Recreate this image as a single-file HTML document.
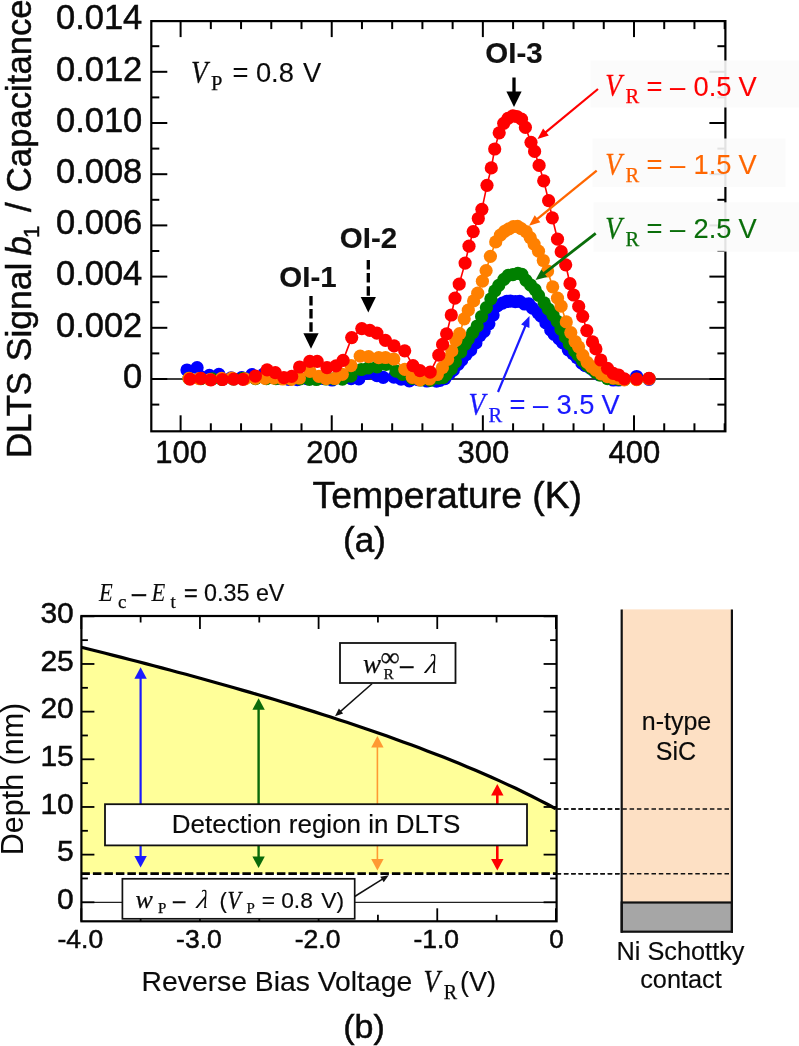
<!DOCTYPE html>
<html><head><meta charset="utf-8"><title>DLTS figure</title>
<style>
html,body{margin:0;padding:0;background:#fff;}
svg{display:block;}
text{white-space:pre;}
</style></head><body>
<svg width="799" height="1046" viewBox="0 0 799 1046">
<rect width="799" height="1046" fill="#fff"/>
<line x1="151.30" y1="379.00" x2="725.40" y2="379.00" stroke="#000" stroke-width="1.4" />
<polyline points="187.0,370.0 197.1,367.7 209.4,375.4 218.9,374.4 231.1,377.9 241.7,377.7 251.9,374.7 264.0,373.9 271.4,376.6 281.0,378.5 288.7,379.4 297.3,379.7 306.8,378.7 316.4,378.0 323.2,378.5 332.1,380.0 341.7,378.3 351.2,378.6 358.8,378.9 366.9,373.4 377.0,375.6 383.2,377.4 393.9,377.1 401.1,379.2 409.3,380.9 417.8,379.7 426.9,381.0 436.5,381.1 439.9,380.4 444.9,378.6 449.4,373.8 453.4,370.0 458.1,364.3 461.7,360.1 466.1,354.6 470.7,350.1 475.9,342.9 479.9,335.7 484.1,331.3 488.9,323.8 493.1,315.0 497.3,305.9 502.5,303.2 506.7,301.4 510.4,301.1 515.3,301.6 519.6,301.4 524.6,304.0 528.8,303.8 532.5,308.1 538.0,312.8 541.0,316.1 545.9,322.9 550.8,330.2 554.2,334.4 559.2,338.9 562.9,342.9 568.3,349.8 572.8,353.6 576.9,357.6 581.8,363.0 585.3,365.7 590.3,368.0 594.5,371.3 598.9,374.5 607.5,377.1 613.2,380.0 618.6,380.0 624.3,379.4 636.6,376.5 649.0,379.3" fill="none" stroke="#0000ff" stroke-width="1.6" stroke-linejoin="round"/>
<g fill="#0000ff"><circle cx="187.0" cy="370.0" r="6.6"/><circle cx="197.1" cy="367.7" r="6.6"/><circle cx="209.4" cy="375.4" r="6.6"/><circle cx="218.9" cy="374.4" r="6.6"/><circle cx="231.1" cy="377.9" r="6.6"/><circle cx="241.7" cy="377.7" r="6.6"/><circle cx="251.9" cy="374.7" r="6.6"/><circle cx="264.0" cy="373.9" r="6.6"/><circle cx="271.4" cy="376.6" r="6.6"/><circle cx="281.0" cy="378.5" r="6.6"/><circle cx="288.7" cy="379.4" r="6.6"/><circle cx="297.3" cy="379.7" r="6.6"/><circle cx="306.8" cy="378.7" r="6.6"/><circle cx="316.4" cy="378.0" r="6.6"/><circle cx="323.2" cy="378.5" r="6.6"/><circle cx="332.1" cy="380.0" r="6.6"/><circle cx="341.7" cy="378.3" r="6.6"/><circle cx="351.2" cy="378.6" r="6.6"/><circle cx="358.8" cy="378.9" r="6.6"/><circle cx="366.9" cy="373.4" r="6.6"/><circle cx="377.0" cy="375.6" r="6.6"/><circle cx="383.2" cy="377.4" r="6.6"/><circle cx="393.9" cy="377.1" r="6.6"/><circle cx="401.1" cy="379.2" r="6.6"/><circle cx="409.3" cy="380.9" r="6.6"/><circle cx="417.8" cy="379.7" r="6.6"/><circle cx="426.9" cy="381.0" r="6.6"/><circle cx="436.5" cy="381.1" r="6.6"/><circle cx="439.9" cy="380.4" r="6.6"/><circle cx="444.9" cy="378.6" r="6.6"/><circle cx="449.4" cy="373.8" r="6.6"/><circle cx="453.4" cy="370.0" r="6.6"/><circle cx="458.1" cy="364.3" r="6.6"/><circle cx="461.7" cy="360.1" r="6.6"/><circle cx="466.1" cy="354.6" r="6.6"/><circle cx="470.7" cy="350.1" r="6.6"/><circle cx="475.9" cy="342.9" r="6.6"/><circle cx="479.9" cy="335.7" r="6.6"/><circle cx="484.1" cy="331.3" r="6.6"/><circle cx="488.9" cy="323.8" r="6.6"/><circle cx="493.1" cy="315.0" r="6.6"/><circle cx="497.3" cy="305.9" r="6.6"/><circle cx="502.5" cy="303.2" r="6.6"/><circle cx="506.7" cy="301.4" r="6.6"/><circle cx="510.4" cy="301.1" r="6.6"/><circle cx="515.3" cy="301.6" r="6.6"/><circle cx="519.6" cy="301.4" r="6.6"/><circle cx="524.6" cy="304.0" r="6.6"/><circle cx="528.8" cy="303.8" r="6.6"/><circle cx="532.5" cy="308.1" r="6.6"/><circle cx="538.0" cy="312.8" r="6.6"/><circle cx="541.0" cy="316.1" r="6.6"/><circle cx="545.9" cy="322.9" r="6.6"/><circle cx="550.8" cy="330.2" r="6.6"/><circle cx="554.2" cy="334.4" r="6.6"/><circle cx="559.2" cy="338.9" r="6.6"/><circle cx="562.9" cy="342.9" r="6.6"/><circle cx="568.3" cy="349.8" r="6.6"/><circle cx="572.8" cy="353.6" r="6.6"/><circle cx="576.9" cy="357.6" r="6.6"/><circle cx="581.8" cy="363.0" r="6.6"/><circle cx="585.3" cy="365.7" r="6.6"/><circle cx="590.3" cy="368.0" r="6.6"/><circle cx="594.5" cy="371.3" r="6.6"/><circle cx="598.9" cy="374.5" r="6.6"/><circle cx="607.5" cy="377.1" r="6.6"/><circle cx="613.2" cy="380.0" r="6.6"/><circle cx="618.6" cy="380.0" r="6.6"/><circle cx="624.3" cy="379.4" r="6.6"/><circle cx="636.6" cy="376.5" r="6.6"/><circle cx="649.0" cy="379.3" r="6.6"/></g>
<polyline points="189.0,378.4 200.9,378.7 212.2,378.9 221.9,379.4 233.4,379.0 242.9,378.4 255.5,378.7 266.4,378.7 275.9,378.7 284.0,378.5 291.2,378.9 300.1,378.9 309.4,379.4 316.4,379.5 326.1,379.0 333.9,378.9 342.4,379.2 350.9,376.2 361.3,369.5 368.2,368.0 377.1,366.8 386.1,364.3 396.0,371.1 402.5,374.4 412.1,378.3 420.9,380.0 430.4,380.3 438.5,378.2 443.0,377.6 446.4,374.6 451.1,369.2 455.4,362.1 460.6,352.2 465.1,344.4 468.2,339.1 472.7,332.6 477.2,326.0 481.6,316.5 486.4,307.6 490.9,298.8 494.8,290.9 498.8,285.3 503.9,279.3 508.2,275.3 512.9,274.7 517.9,273.4 521.9,274.4 526.0,280.3 530.6,285.0 535.1,289.7 538.5,295.3 544.2,302.8 548.4,309.2 553.0,315.1 557.3,321.4 561.0,329.4 565.4,337.2 569.4,344.2 574.6,350.9 578.1,355.2 582.5,360.7 587.1,365.4 591.5,368.7 596.1,372.5 600.1,375.2 607.5,378.6 613.2,378.5 618.6,379.3 624.3,379.5 636.6,379.1 649.0,378.5" fill="none" stroke="#008000" stroke-width="1.6" stroke-linejoin="round"/>
<g fill="#008000"><circle cx="189.0" cy="378.4" r="6.6"/><circle cx="200.9" cy="378.7" r="6.6"/><circle cx="212.2" cy="378.9" r="6.6"/><circle cx="221.9" cy="379.4" r="6.6"/><circle cx="233.4" cy="379.0" r="6.6"/><circle cx="242.9" cy="378.4" r="6.6"/><circle cx="255.5" cy="378.7" r="6.6"/><circle cx="266.4" cy="378.7" r="6.6"/><circle cx="275.9" cy="378.7" r="6.6"/><circle cx="284.0" cy="378.5" r="6.6"/><circle cx="291.2" cy="378.9" r="6.6"/><circle cx="300.1" cy="378.9" r="6.6"/><circle cx="309.4" cy="379.4" r="6.6"/><circle cx="316.4" cy="379.5" r="6.6"/><circle cx="326.1" cy="379.0" r="6.6"/><circle cx="333.9" cy="378.9" r="6.6"/><circle cx="342.4" cy="379.2" r="6.6"/><circle cx="350.9" cy="376.2" r="6.6"/><circle cx="361.3" cy="369.5" r="6.6"/><circle cx="368.2" cy="368.0" r="6.6"/><circle cx="377.1" cy="366.8" r="6.6"/><circle cx="386.1" cy="364.3" r="6.6"/><circle cx="396.0" cy="371.1" r="6.6"/><circle cx="402.5" cy="374.4" r="6.6"/><circle cx="412.1" cy="378.3" r="6.6"/><circle cx="420.9" cy="380.0" r="6.6"/><circle cx="430.4" cy="380.3" r="6.6"/><circle cx="438.5" cy="378.2" r="6.6"/><circle cx="443.0" cy="377.6" r="6.6"/><circle cx="446.4" cy="374.6" r="6.6"/><circle cx="451.1" cy="369.2" r="6.6"/><circle cx="455.4" cy="362.1" r="6.6"/><circle cx="460.6" cy="352.2" r="6.6"/><circle cx="465.1" cy="344.4" r="6.6"/><circle cx="468.2" cy="339.1" r="6.6"/><circle cx="472.7" cy="332.6" r="6.6"/><circle cx="477.2" cy="326.0" r="6.6"/><circle cx="481.6" cy="316.5" r="6.6"/><circle cx="486.4" cy="307.6" r="6.6"/><circle cx="490.9" cy="298.8" r="6.6"/><circle cx="494.8" cy="290.9" r="6.6"/><circle cx="498.8" cy="285.3" r="6.6"/><circle cx="503.9" cy="279.3" r="6.6"/><circle cx="508.2" cy="275.3" r="6.6"/><circle cx="512.9" cy="274.7" r="6.6"/><circle cx="517.9" cy="273.4" r="6.6"/><circle cx="521.9" cy="274.4" r="6.6"/><circle cx="526.0" cy="280.3" r="6.6"/><circle cx="530.6" cy="285.0" r="6.6"/><circle cx="535.1" cy="289.7" r="6.6"/><circle cx="538.5" cy="295.3" r="6.6"/><circle cx="544.2" cy="302.8" r="6.6"/><circle cx="548.4" cy="309.2" r="6.6"/><circle cx="553.0" cy="315.1" r="6.6"/><circle cx="557.3" cy="321.4" r="6.6"/><circle cx="561.0" cy="329.4" r="6.6"/><circle cx="565.4" cy="337.2" r="6.6"/><circle cx="569.4" cy="344.2" r="6.6"/><circle cx="574.6" cy="350.9" r="6.6"/><circle cx="578.1" cy="355.2" r="6.6"/><circle cx="582.5" cy="360.7" r="6.6"/><circle cx="587.1" cy="365.4" r="6.6"/><circle cx="591.5" cy="368.7" r="6.6"/><circle cx="596.1" cy="372.5" r="6.6"/><circle cx="600.1" cy="375.2" r="6.6"/><circle cx="607.5" cy="378.6" r="6.6"/><circle cx="613.2" cy="378.5" r="6.6"/><circle cx="618.6" cy="379.3" r="6.6"/><circle cx="624.3" cy="379.5" r="6.6"/><circle cx="636.6" cy="379.1" r="6.6"/><circle cx="649.0" cy="378.5" r="6.6"/></g>
<polyline points="189.0,378.3 199.1,378.7 210.0,379.5 221.6,378.3 231.8,378.2 245.0,378.8 255.3,378.3 265.1,378.4 274.0,378.2 282.8,379.0 291.4,379.3 299.4,378.0 309.9,371.4 318.9,376.3 326.1,378.7 334.8,378.5 342.3,374.3 351.0,365.6 360.2,356.2 368.6,356.6 378.7,357.6 385.5,357.5 393.8,359.0 404.8,369.4 412.3,377.3 419.9,379.9 429.5,379.0 437.3,374.5 442.4,367.7 447.6,359.3 451.8,350.9 455.9,340.3 459.6,333.7 464.2,318.8 468.3,310.2 473.6,300.9 477.7,293.2 482.4,281.2 486.1,270.6 490.4,256.3 495.7,241.9 500.4,235.1 504.6,231.4 508.9,228.8 513.3,226.6 517.6,226.3 521.2,228.6 526.0,231.5 530.2,237.6 534.1,244.1 538.5,251.2 543.3,260.5 547.6,271.0 552.7,286.8 557.5,298.2 561.1,306.2 566.3,321.9 570.8,332.6 575.1,341.5 578.6,346.8 582.8,355.3 587.2,362.3 591.5,366.7 595.9,370.0 601.0,373.8 607.5,376.6 613.2,378.1 618.6,378.4 624.3,379.8 636.6,379.7 649.0,378.9" fill="none" stroke="#ff8000" stroke-width="1.6" stroke-linejoin="round"/>
<g fill="#ff8000"><circle cx="189.0" cy="378.3" r="6.6"/><circle cx="199.1" cy="378.7" r="6.6"/><circle cx="210.0" cy="379.5" r="6.6"/><circle cx="221.6" cy="378.3" r="6.6"/><circle cx="231.8" cy="378.2" r="6.6"/><circle cx="245.0" cy="378.8" r="6.6"/><circle cx="255.3" cy="378.3" r="6.6"/><circle cx="265.1" cy="378.4" r="6.6"/><circle cx="274.0" cy="378.2" r="6.6"/><circle cx="282.8" cy="379.0" r="6.6"/><circle cx="291.4" cy="379.3" r="6.6"/><circle cx="299.4" cy="378.0" r="6.6"/><circle cx="309.9" cy="371.4" r="6.6"/><circle cx="318.9" cy="376.3" r="6.6"/><circle cx="326.1" cy="378.7" r="6.6"/><circle cx="334.8" cy="378.5" r="6.6"/><circle cx="342.3" cy="374.3" r="6.6"/><circle cx="351.0" cy="365.6" r="6.6"/><circle cx="360.2" cy="356.2" r="6.6"/><circle cx="368.6" cy="356.6" r="6.6"/><circle cx="378.7" cy="357.6" r="6.6"/><circle cx="385.5" cy="357.5" r="6.6"/><circle cx="393.8" cy="359.0" r="6.6"/><circle cx="404.8" cy="369.4" r="6.6"/><circle cx="412.3" cy="377.3" r="6.6"/><circle cx="419.9" cy="379.9" r="6.6"/><circle cx="429.5" cy="379.0" r="6.6"/><circle cx="437.3" cy="374.5" r="6.6"/><circle cx="442.4" cy="367.7" r="6.6"/><circle cx="447.6" cy="359.3" r="6.6"/><circle cx="451.8" cy="350.9" r="6.6"/><circle cx="455.9" cy="340.3" r="6.6"/><circle cx="459.6" cy="333.7" r="6.6"/><circle cx="464.2" cy="318.8" r="6.6"/><circle cx="468.3" cy="310.2" r="6.6"/><circle cx="473.6" cy="300.9" r="6.6"/><circle cx="477.7" cy="293.2" r="6.6"/><circle cx="482.4" cy="281.2" r="6.6"/><circle cx="486.1" cy="270.6" r="6.6"/><circle cx="490.4" cy="256.3" r="6.6"/><circle cx="495.7" cy="241.9" r="6.6"/><circle cx="500.4" cy="235.1" r="6.6"/><circle cx="504.6" cy="231.4" r="6.6"/><circle cx="508.9" cy="228.8" r="6.6"/><circle cx="513.3" cy="226.6" r="6.6"/><circle cx="517.6" cy="226.3" r="6.6"/><circle cx="521.2" cy="228.6" r="6.6"/><circle cx="526.0" cy="231.5" r="6.6"/><circle cx="530.2" cy="237.6" r="6.6"/><circle cx="534.1" cy="244.1" r="6.6"/><circle cx="538.5" cy="251.2" r="6.6"/><circle cx="543.3" cy="260.5" r="6.6"/><circle cx="547.6" cy="271.0" r="6.6"/><circle cx="552.7" cy="286.8" r="6.6"/><circle cx="557.5" cy="298.2" r="6.6"/><circle cx="561.1" cy="306.2" r="6.6"/><circle cx="566.3" cy="321.9" r="6.6"/><circle cx="570.8" cy="332.6" r="6.6"/><circle cx="575.1" cy="341.5" r="6.6"/><circle cx="578.6" cy="346.8" r="6.6"/><circle cx="582.8" cy="355.3" r="6.6"/><circle cx="587.2" cy="362.3" r="6.6"/><circle cx="591.5" cy="366.7" r="6.6"/><circle cx="595.9" cy="370.0" r="6.6"/><circle cx="601.0" cy="373.8" r="6.6"/><circle cx="607.5" cy="376.6" r="6.6"/><circle cx="613.2" cy="378.1" r="6.6"/><circle cx="618.6" cy="378.4" r="6.6"/><circle cx="624.3" cy="379.8" r="6.6"/><circle cx="636.6" cy="379.7" r="6.6"/><circle cx="649.0" cy="378.9" r="6.6"/></g>
<polyline points="190.0,379.1 200.9,378.3 210.9,379.8 222.4,379.5 233.8,379.2 242.9,379.4 255.4,376.1 267.1,369.8 275.3,372.7 283.9,377.7 291.7,376.4 299.6,367.0 309.8,361.4 317.2,361.4 327.0,367.7 336.0,365.8 343.1,360.4 351.7,337.6 361.8,328.6 369.8,330.4 376.9,333.1 385.4,340.3 394.1,345.9 404.7,350.8 413.0,365.6 419.9,370.6 430.2,372.1 438.8,355.2 442.6,344.4 446.6,333.8 451.3,315.0 455.0,298.1 459.2,284.1 465.1,263.1 469.0,246.2 473.2,231.6 478.3,218.5 481.9,209.3 487.0,185.3 491.3,167.9 494.7,149.0 499.2,132.8 503.7,123.3 508.0,118.4 512.9,115.8 516.8,116.5 521.5,119.2 525.4,127.4 531.0,142.3 534.6,151.4 539.1,165.4 543.7,180.8 548.6,200.6 552.3,217.8 557.5,239.2 561.2,251.7 565.7,264.8 570.0,283.7 573.6,295.0 578.7,306.4 582.7,316.3 586.8,330.6 592.5,341.9 595.9,348.9 600.8,360.0 607.5,368.3 613.2,373.4 618.6,375.0 624.3,378.8 636.6,379.0 649.0,378.3" fill="none" stroke="#ff0000" stroke-width="1.6" stroke-linejoin="round"/>
<g fill="#ff0000"><circle cx="190.0" cy="379.1" r="6.6"/><circle cx="200.9" cy="378.3" r="6.6"/><circle cx="210.9" cy="379.8" r="6.6"/><circle cx="222.4" cy="379.5" r="6.6"/><circle cx="233.8" cy="379.2" r="6.6"/><circle cx="242.9" cy="379.4" r="6.6"/><circle cx="255.4" cy="376.1" r="6.6"/><circle cx="267.1" cy="369.8" r="6.6"/><circle cx="275.3" cy="372.7" r="6.6"/><circle cx="283.9" cy="377.7" r="6.6"/><circle cx="291.7" cy="376.4" r="6.6"/><circle cx="299.6" cy="367.0" r="6.6"/><circle cx="309.8" cy="361.4" r="6.6"/><circle cx="317.2" cy="361.4" r="6.6"/><circle cx="327.0" cy="367.7" r="6.6"/><circle cx="336.0" cy="365.8" r="6.6"/><circle cx="343.1" cy="360.4" r="6.6"/><circle cx="351.7" cy="337.6" r="6.6"/><circle cx="361.8" cy="328.6" r="6.6"/><circle cx="369.8" cy="330.4" r="6.6"/><circle cx="376.9" cy="333.1" r="6.6"/><circle cx="385.4" cy="340.3" r="6.6"/><circle cx="394.1" cy="345.9" r="6.6"/><circle cx="404.7" cy="350.8" r="6.6"/><circle cx="413.0" cy="365.6" r="6.6"/><circle cx="419.9" cy="370.6" r="6.6"/><circle cx="430.2" cy="372.1" r="6.6"/><circle cx="438.8" cy="355.2" r="6.6"/><circle cx="442.6" cy="344.4" r="6.6"/><circle cx="446.6" cy="333.8" r="6.6"/><circle cx="451.3" cy="315.0" r="6.6"/><circle cx="455.0" cy="298.1" r="6.6"/><circle cx="459.2" cy="284.1" r="6.6"/><circle cx="465.1" cy="263.1" r="6.6"/><circle cx="469.0" cy="246.2" r="6.6"/><circle cx="473.2" cy="231.6" r="6.6"/><circle cx="478.3" cy="218.5" r="6.6"/><circle cx="481.9" cy="209.3" r="6.6"/><circle cx="487.0" cy="185.3" r="6.6"/><circle cx="491.3" cy="167.9" r="6.6"/><circle cx="494.7" cy="149.0" r="6.6"/><circle cx="499.2" cy="132.8" r="6.6"/><circle cx="503.7" cy="123.3" r="6.6"/><circle cx="508.0" cy="118.4" r="6.6"/><circle cx="512.9" cy="115.8" r="6.6"/><circle cx="516.8" cy="116.5" r="6.6"/><circle cx="521.5" cy="119.2" r="6.6"/><circle cx="525.4" cy="127.4" r="6.6"/><circle cx="531.0" cy="142.3" r="6.6"/><circle cx="534.6" cy="151.4" r="6.6"/><circle cx="539.1" cy="165.4" r="6.6"/><circle cx="543.7" cy="180.8" r="6.6"/><circle cx="548.6" cy="200.6" r="6.6"/><circle cx="552.3" cy="217.8" r="6.6"/><circle cx="557.5" cy="239.2" r="6.6"/><circle cx="561.2" cy="251.7" r="6.6"/><circle cx="565.7" cy="264.8" r="6.6"/><circle cx="570.0" cy="283.7" r="6.6"/><circle cx="573.6" cy="295.0" r="6.6"/><circle cx="578.7" cy="306.4" r="6.6"/><circle cx="582.7" cy="316.3" r="6.6"/><circle cx="586.8" cy="330.6" r="6.6"/><circle cx="592.5" cy="341.9" r="6.6"/><circle cx="595.9" cy="348.9" r="6.6"/><circle cx="600.8" cy="360.0" r="6.6"/><circle cx="607.5" cy="368.3" r="6.6"/><circle cx="613.2" cy="373.4" r="6.6"/><circle cx="618.6" cy="375.0" r="6.6"/><circle cx="624.3" cy="378.8" r="6.6"/><circle cx="636.6" cy="379.0" r="6.6"/><circle cx="649.0" cy="378.3" r="6.6"/></g>
<rect x="151.3" y="21.1" width="574.0999999999999" height="410.2" fill="none" stroke="#000" stroke-width="2.2"/>
<line x1="180.60" y1="21.10" x2="180.60" y2="37.10" stroke="#000" stroke-width="2" />
<line x1="180.60" y1="431.30" x2="180.60" y2="415.30" stroke="#000" stroke-width="2" />
<line x1="210.83" y1="21.10" x2="210.83" y2="29.10" stroke="#000" stroke-width="2" />
<line x1="210.83" y1="431.30" x2="210.83" y2="423.30" stroke="#000" stroke-width="2" />
<line x1="241.05" y1="21.10" x2="241.05" y2="29.10" stroke="#000" stroke-width="2" />
<line x1="241.05" y1="431.30" x2="241.05" y2="423.30" stroke="#000" stroke-width="2" />
<line x1="271.28" y1="21.10" x2="271.28" y2="29.10" stroke="#000" stroke-width="2" />
<line x1="271.28" y1="431.30" x2="271.28" y2="423.30" stroke="#000" stroke-width="2" />
<line x1="301.50" y1="21.10" x2="301.50" y2="29.10" stroke="#000" stroke-width="2" />
<line x1="301.50" y1="431.30" x2="301.50" y2="423.30" stroke="#000" stroke-width="2" />
<line x1="331.73" y1="21.10" x2="331.73" y2="37.10" stroke="#000" stroke-width="2" />
<line x1="331.73" y1="431.30" x2="331.73" y2="415.30" stroke="#000" stroke-width="2" />
<line x1="361.96" y1="21.10" x2="361.96" y2="29.10" stroke="#000" stroke-width="2" />
<line x1="361.96" y1="431.30" x2="361.96" y2="423.30" stroke="#000" stroke-width="2" />
<line x1="392.18" y1="21.10" x2="392.18" y2="29.10" stroke="#000" stroke-width="2" />
<line x1="392.18" y1="431.30" x2="392.18" y2="423.30" stroke="#000" stroke-width="2" />
<line x1="422.41" y1="21.10" x2="422.41" y2="29.10" stroke="#000" stroke-width="2" />
<line x1="422.41" y1="431.30" x2="422.41" y2="423.30" stroke="#000" stroke-width="2" />
<line x1="452.63" y1="21.10" x2="452.63" y2="29.10" stroke="#000" stroke-width="2" />
<line x1="452.63" y1="431.30" x2="452.63" y2="423.30" stroke="#000" stroke-width="2" />
<line x1="482.86" y1="21.10" x2="482.86" y2="37.10" stroke="#000" stroke-width="2" />
<line x1="482.86" y1="431.30" x2="482.86" y2="415.30" stroke="#000" stroke-width="2" />
<line x1="513.09" y1="21.10" x2="513.09" y2="29.10" stroke="#000" stroke-width="2" />
<line x1="513.09" y1="431.30" x2="513.09" y2="423.30" stroke="#000" stroke-width="2" />
<line x1="543.31" y1="21.10" x2="543.31" y2="29.10" stroke="#000" stroke-width="2" />
<line x1="543.31" y1="431.30" x2="543.31" y2="423.30" stroke="#000" stroke-width="2" />
<line x1="573.54" y1="21.10" x2="573.54" y2="29.10" stroke="#000" stroke-width="2" />
<line x1="573.54" y1="431.30" x2="573.54" y2="423.30" stroke="#000" stroke-width="2" />
<line x1="603.76" y1="21.10" x2="603.76" y2="29.10" stroke="#000" stroke-width="2" />
<line x1="603.76" y1="431.30" x2="603.76" y2="423.30" stroke="#000" stroke-width="2" />
<line x1="633.99" y1="21.10" x2="633.99" y2="37.10" stroke="#000" stroke-width="2" />
<line x1="633.99" y1="431.30" x2="633.99" y2="415.30" stroke="#000" stroke-width="2" />
<line x1="664.22" y1="21.10" x2="664.22" y2="29.10" stroke="#000" stroke-width="2" />
<line x1="664.22" y1="431.30" x2="664.22" y2="423.30" stroke="#000" stroke-width="2" />
<line x1="694.44" y1="21.10" x2="694.44" y2="29.10" stroke="#000" stroke-width="2" />
<line x1="694.44" y1="431.30" x2="694.44" y2="423.30" stroke="#000" stroke-width="2" />
<line x1="724.67" y1="21.10" x2="724.67" y2="29.10" stroke="#000" stroke-width="2" />
<line x1="724.67" y1="431.30" x2="724.67" y2="423.30" stroke="#000" stroke-width="2" />
<line x1="151.30" y1="404.60" x2="159.30" y2="404.60" stroke="#000" stroke-width="2" />
<line x1="725.40" y1="404.60" x2="717.40" y2="404.60" stroke="#000" stroke-width="2" />
<line x1="151.30" y1="379.00" x2="167.30" y2="379.00" stroke="#000" stroke-width="2" />
<line x1="725.40" y1="379.00" x2="709.40" y2="379.00" stroke="#000" stroke-width="2" />
<line x1="151.30" y1="353.40" x2="159.30" y2="353.40" stroke="#000" stroke-width="2" />
<line x1="725.40" y1="353.40" x2="717.40" y2="353.40" stroke="#000" stroke-width="2" />
<line x1="151.30" y1="327.80" x2="167.30" y2="327.80" stroke="#000" stroke-width="2" />
<line x1="725.40" y1="327.80" x2="709.40" y2="327.80" stroke="#000" stroke-width="2" />
<line x1="151.30" y1="302.20" x2="159.30" y2="302.20" stroke="#000" stroke-width="2" />
<line x1="725.40" y1="302.20" x2="717.40" y2="302.20" stroke="#000" stroke-width="2" />
<line x1="151.30" y1="276.60" x2="167.30" y2="276.60" stroke="#000" stroke-width="2" />
<line x1="725.40" y1="276.60" x2="709.40" y2="276.60" stroke="#000" stroke-width="2" />
<line x1="151.30" y1="251.00" x2="159.30" y2="251.00" stroke="#000" stroke-width="2" />
<line x1="725.40" y1="251.00" x2="717.40" y2="251.00" stroke="#000" stroke-width="2" />
<line x1="151.30" y1="225.40" x2="167.30" y2="225.40" stroke="#000" stroke-width="2" />
<line x1="725.40" y1="225.40" x2="709.40" y2="225.40" stroke="#000" stroke-width="2" />
<line x1="151.30" y1="199.80" x2="159.30" y2="199.80" stroke="#000" stroke-width="2" />
<line x1="725.40" y1="199.80" x2="717.40" y2="199.80" stroke="#000" stroke-width="2" />
<line x1="151.30" y1="174.20" x2="167.30" y2="174.20" stroke="#000" stroke-width="2" />
<line x1="725.40" y1="174.20" x2="709.40" y2="174.20" stroke="#000" stroke-width="2" />
<line x1="151.30" y1="148.60" x2="159.30" y2="148.60" stroke="#000" stroke-width="2" />
<line x1="725.40" y1="148.60" x2="717.40" y2="148.60" stroke="#000" stroke-width="2" />
<line x1="151.30" y1="123.00" x2="167.30" y2="123.00" stroke="#000" stroke-width="2" />
<line x1="725.40" y1="123.00" x2="709.40" y2="123.00" stroke="#000" stroke-width="2" />
<line x1="151.30" y1="97.40" x2="159.30" y2="97.40" stroke="#000" stroke-width="2" />
<line x1="725.40" y1="97.40" x2="717.40" y2="97.40" stroke="#000" stroke-width="2" />
<line x1="151.30" y1="71.80" x2="167.30" y2="71.80" stroke="#000" stroke-width="2" />
<line x1="725.40" y1="71.80" x2="709.40" y2="71.80" stroke="#000" stroke-width="2" />
<line x1="151.30" y1="46.20" x2="159.30" y2="46.20" stroke="#000" stroke-width="2" />
<line x1="725.40" y1="46.20" x2="717.40" y2="46.20" stroke="#000" stroke-width="2" />
<text x="142.30" y="387.70" font-size="34.5" text-anchor="end" fill="#0a0a0a" font-family='"Liberation Sans", Arial, sans-serif' font-weight="normal" font-style="normal"  stroke="#0a0a0a" stroke-width="0.5">0</text>
<text x="142.30" y="336.50" font-size="34.5" text-anchor="end" fill="#0a0a0a" font-family='"Liberation Sans", Arial, sans-serif' font-weight="normal" font-style="normal"  stroke="#0a0a0a" stroke-width="0.5">0.002</text>
<text x="142.30" y="285.30" font-size="34.5" text-anchor="end" fill="#0a0a0a" font-family='"Liberation Sans", Arial, sans-serif' font-weight="normal" font-style="normal"  stroke="#0a0a0a" stroke-width="0.5">0.004</text>
<text x="142.30" y="234.10" font-size="34.5" text-anchor="end" fill="#0a0a0a" font-family='"Liberation Sans", Arial, sans-serif' font-weight="normal" font-style="normal"  stroke="#0a0a0a" stroke-width="0.5">0.006</text>
<text x="142.30" y="182.90" font-size="34.5" text-anchor="end" fill="#0a0a0a" font-family='"Liberation Sans", Arial, sans-serif' font-weight="normal" font-style="normal"  stroke="#0a0a0a" stroke-width="0.5">0.008</text>
<text x="142.30" y="131.70" font-size="34.5" text-anchor="end" fill="#0a0a0a" font-family='"Liberation Sans", Arial, sans-serif' font-weight="normal" font-style="normal"  stroke="#0a0a0a" stroke-width="0.5">0.010</text>
<text x="142.30" y="80.50" font-size="34.5" text-anchor="end" fill="#0a0a0a" font-family='"Liberation Sans", Arial, sans-serif' font-weight="normal" font-style="normal"  stroke="#0a0a0a" stroke-width="0.5">0.012</text>
<text x="142.30" y="29.30" font-size="34.5" text-anchor="end" fill="#0a0a0a" font-family='"Liberation Sans", Arial, sans-serif' font-weight="normal" font-style="normal"  stroke="#0a0a0a" stroke-width="0.5">0.014</text>
<text x="181.10" y="462.50" font-size="31" text-anchor="middle" fill="#0a0a0a" font-family='"Liberation Sans", Arial, sans-serif' font-weight="normal" font-style="normal"  stroke="#0a0a0a" stroke-width="0.5">100</text>
<text x="332.23" y="462.50" font-size="31" text-anchor="middle" fill="#0a0a0a" font-family='"Liberation Sans", Arial, sans-serif' font-weight="normal" font-style="normal"  stroke="#0a0a0a" stroke-width="0.5">200</text>
<text x="483.36" y="462.50" font-size="31" text-anchor="middle" fill="#0a0a0a" font-family='"Liberation Sans", Arial, sans-serif' font-weight="normal" font-style="normal"  stroke="#0a0a0a" stroke-width="0.5">300</text>
<text x="634.49" y="462.50" font-size="31" text-anchor="middle" fill="#0a0a0a" font-family='"Liberation Sans", Arial, sans-serif' font-weight="normal" font-style="normal"  stroke="#0a0a0a" stroke-width="0.5">400</text>
<text x="447.30" y="507.60" font-size="37.3" text-anchor="middle" fill="#0a0a0a" font-family='"Liberation Sans", Arial, sans-serif' font-weight="normal" font-style="normal"  stroke="#0a0a0a" stroke-width="0.5">Temperature (K)</text>
<text x="364.50" y="552.00" font-size="35" text-anchor="middle" fill="#0a0a0a" font-family='"Liberation Sans", Arial, sans-serif' font-weight="normal" font-style="normal"  stroke="#0a0a0a" stroke-width="0.5">(a)</text>
<text transform="translate(30.8,458.1) rotate(-90)" font-size="34.7" fill="#0a0a0a" stroke="#0a0a0a" stroke-width="0.5" font-style="normal" font-family='"Liberation Sans", Arial, sans-serif'>DLTS</text>
<text transform="translate(30.8,361.2) rotate(-90)" font-size="35.5" fill="#0a0a0a" stroke="#0a0a0a" stroke-width="0.5" font-style="normal" font-family='"Liberation Sans", Arial, sans-serif'>Signal</text>
<text transform="translate(30.8,255.5) rotate(-90)" font-size="34.7" fill="#0a0a0a" stroke="#0a0a0a" stroke-width="0.5" font-style="italic" font-family='"Liberation Sans", Arial, sans-serif'>b</text>
<text transform="translate(38.8,238.0) rotate(-90)" font-size="22" fill="#0a0a0a" stroke="#0a0a0a" stroke-width="0.5" font-style="normal" font-family='"Liberation Sans", Arial, sans-serif'>1</text>
<text transform="translate(30.8,212.0) rotate(-90)" font-size="34.7" fill="#0a0a0a" stroke="#0a0a0a" stroke-width="0.5" font-style="normal" font-family='"Liberation Sans", Arial, sans-serif'>/</text>
<text transform="translate(30.8,192.2) rotate(-90)" font-size="34.7" fill="#0a0a0a" stroke="#0a0a0a" stroke-width="0.5" font-style="normal" font-family='"Liberation Sans", Arial, sans-serif'>Capacitance</text>
<rect x="590.5" y="60.5" width="210" height="47" fill="rgba(251,251,251,0.9)"/>
<rect x="592.5" y="138.5" width="193" height="48.5" fill="rgba(251,251,251,0.9)"/>
<rect x="593.5" y="202.3" width="207" height="49.3" fill="rgba(251,251,251,0.9)"/>
<text transform="translate(605.30,96.10) scale(0.86,1)" font-size="31.5" fill="#ff0000" stroke="#ff0000" stroke-width="0.3" font-style="italic" font-family='"Liberation Serif", "DejaVu Serif", serif'>V</text>
<text x="625.50" y="102.90" font-size="20.5" text-anchor="start" fill="#ff0000" font-family='"Liberation Serif", "DejaVu Serif", serif' font-weight="normal" font-style="normal"  stroke="#ff0000" stroke-width="0.25">R</text>
<text x="646.50" y="95.50" font-size="27.3" text-anchor="start" fill="#ff0000" font-family='"Liberation Sans", Arial, sans-serif' font-weight="normal" font-style="normal"  stroke="#ff0000" stroke-width="0.12">=</text>
<text x="669.90" y="95.50" font-size="27.3" text-anchor="start" fill="#ff0000" font-family='"Liberation Sans", Arial, sans-serif' font-weight="normal" font-style="normal"  stroke="#ff0000" stroke-width="0.12">–</text>
<text x="693.50" y="95.50" font-size="27.3" text-anchor="start" fill="#ff0000" font-family='"Liberation Sans", Arial, sans-serif' font-weight="normal" font-style="normal"  stroke="#ff0000" stroke-width="0.12">0.5</text>
<text x="738.40" y="95.50" font-size="27.3" text-anchor="start" fill="#ff0000" font-family='"Liberation Sans", Arial, sans-serif' font-weight="normal" font-style="normal"  stroke="#ff0000" stroke-width="0.12">V</text>
<text transform="translate(605.30,174.80) scale(0.86,1)" font-size="31.5" fill="#ff6600" stroke="#ff6600" stroke-width="0.3" font-style="italic" font-family='"Liberation Serif", "DejaVu Serif", serif'>V</text>
<text x="625.50" y="181.60" font-size="20.5" text-anchor="start" fill="#ff6600" font-family='"Liberation Serif", "DejaVu Serif", serif' font-weight="normal" font-style="normal"  stroke="#ff6600" stroke-width="0.25">R</text>
<text x="646.50" y="174.20" font-size="27.3" text-anchor="start" fill="#ff6600" font-family='"Liberation Sans", Arial, sans-serif' font-weight="normal" font-style="normal"  stroke="#ff6600" stroke-width="0.12">=</text>
<text x="669.90" y="174.20" font-size="27.3" text-anchor="start" fill="#ff6600" font-family='"Liberation Sans", Arial, sans-serif' font-weight="normal" font-style="normal"  stroke="#ff6600" stroke-width="0.12">–</text>
<text x="693.50" y="174.20" font-size="27.3" text-anchor="start" fill="#ff6600" font-family='"Liberation Sans", Arial, sans-serif' font-weight="normal" font-style="normal"  stroke="#ff6600" stroke-width="0.12">1.5</text>
<text x="738.40" y="174.20" font-size="27.3" text-anchor="start" fill="#ff6600" font-family='"Liberation Sans", Arial, sans-serif' font-weight="normal" font-style="normal"  stroke="#ff6600" stroke-width="0.12">V</text>
<text transform="translate(605.30,238.80) scale(0.86,1)" font-size="31.5" fill="#0a6e0a" stroke="#0a6e0a" stroke-width="0.3" font-style="italic" font-family='"Liberation Serif", "DejaVu Serif", serif'>V</text>
<text x="625.50" y="245.60" font-size="20.5" text-anchor="start" fill="#0a6e0a" font-family='"Liberation Serif", "DejaVu Serif", serif' font-weight="normal" font-style="normal"  stroke="#0a6e0a" stroke-width="0.25">R</text>
<text x="646.50" y="238.20" font-size="27.3" text-anchor="start" fill="#0a6e0a" font-family='"Liberation Sans", Arial, sans-serif' font-weight="normal" font-style="normal"  stroke="#0a6e0a" stroke-width="0.12">=</text>
<text x="669.90" y="238.20" font-size="27.3" text-anchor="start" fill="#0a6e0a" font-family='"Liberation Sans", Arial, sans-serif' font-weight="normal" font-style="normal"  stroke="#0a6e0a" stroke-width="0.12">–</text>
<text x="693.50" y="238.20" font-size="27.3" text-anchor="start" fill="#0a6e0a" font-family='"Liberation Sans", Arial, sans-serif' font-weight="normal" font-style="normal"  stroke="#0a6e0a" stroke-width="0.12">2.5</text>
<text x="738.40" y="238.20" font-size="27.3" text-anchor="start" fill="#0a6e0a" font-family='"Liberation Sans", Arial, sans-serif' font-weight="normal" font-style="normal"  stroke="#0a6e0a" stroke-width="0.12">V</text>
<text transform="translate(468.40,414.80) scale(0.86,1)" font-size="31.5" fill="#1a1aff" stroke="#1a1aff" stroke-width="0.3" font-style="italic" font-family='"Liberation Serif", "DejaVu Serif", serif'>V</text>
<text x="488.60" y="421.60" font-size="20.5" text-anchor="start" fill="#1a1aff" font-family='"Liberation Serif", "DejaVu Serif", serif' font-weight="normal" font-style="normal"  stroke="#1a1aff" stroke-width="0.25">R</text>
<text x="509.60" y="414.20" font-size="27.3" text-anchor="start" fill="#1a1aff" font-family='"Liberation Sans", Arial, sans-serif' font-weight="normal" font-style="normal"  stroke="#1a1aff" stroke-width="0.12">=</text>
<text x="533.00" y="414.20" font-size="27.3" text-anchor="start" fill="#1a1aff" font-family='"Liberation Sans", Arial, sans-serif' font-weight="normal" font-style="normal"  stroke="#1a1aff" stroke-width="0.12">–</text>
<text x="556.60" y="414.20" font-size="27.3" text-anchor="start" fill="#1a1aff" font-family='"Liberation Sans", Arial, sans-serif' font-weight="normal" font-style="normal"  stroke="#1a1aff" stroke-width="0.12">3.5</text>
<text x="601.50" y="414.20" font-size="27.3" text-anchor="start" fill="#1a1aff" font-family='"Liberation Sans", Arial, sans-serif' font-weight="normal" font-style="normal"  stroke="#1a1aff" stroke-width="0.12">V</text>
<text transform="translate(190.90,82.80) scale(0.86,1)" font-size="31.5" fill="#0a0a0a" stroke="#0a0a0a" stroke-width="0.3" font-style="italic" font-family='"Liberation Serif", "DejaVu Serif", serif'>V</text>
<text x="211.10" y="89.60" font-size="20.5" text-anchor="start" fill="#0a0a0a" font-family='"Liberation Serif", "DejaVu Serif", serif' font-weight="normal" font-style="normal"  stroke="#0a0a0a" stroke-width="0.25">P</text>
<text x="232.50" y="82.20" font-size="27.3" text-anchor="start" fill="#0a0a0a" font-family='"Liberation Sans", Arial, sans-serif' font-weight="normal" font-style="normal"  stroke="#0a0a0a" stroke-width="0.12">=</text>
<text x="255.90" y="82.20" font-size="27.3" text-anchor="start" fill="#0a0a0a" font-family='"Liberation Sans", Arial, sans-serif' font-weight="normal" font-style="normal"  stroke="#0a0a0a" stroke-width="0.12">0.8</text>
<text x="303.00" y="82.20" font-size="27.3" text-anchor="start" fill="#0a0a0a" font-family='"Liberation Sans", Arial, sans-serif' font-weight="normal" font-style="normal"  stroke="#0a0a0a" stroke-width="0.12">V</text>
<text x="514.00" y="63.00" font-size="29.5" text-anchor="middle" fill="#111" font-family='"Liberation Sans", Arial, sans-serif' font-weight="bold" font-style="normal"  stroke="#111" stroke-width="0.15">OI-3</text>
<text x="368.50" y="248.00" font-size="29.5" text-anchor="middle" fill="#111" font-family='"Liberation Sans", Arial, sans-serif' font-weight="bold" font-style="normal"  stroke="#111" stroke-width="0.15">OI-2</text>
<text x="308.00" y="287.40" font-size="29.5" text-anchor="middle" fill="#111" font-family='"Liberation Sans", Arial, sans-serif' font-weight="bold" font-style="normal"  stroke="#111" stroke-width="0.15">OI-1</text>
<line x1="514.00" y1="77.50" x2="514.00" y2="92.50" stroke="#000" stroke-width="3.3" />
<polygon points="506.4,91.5 521.6,91.5 514,107" fill="#000"/>
<line x1="368.30" y1="260.00" x2="368.30" y2="298.00" stroke="#000" stroke-width="3.3" stroke-dasharray="9.5 3.6"/>
<polygon points="360.7,297.0 375.90000000000003,297.0 368.3,312.5" fill="#000"/>
<line x1="311.00" y1="296.00" x2="311.00" y2="334.30" stroke="#000" stroke-width="3.3" stroke-dasharray="9.5 3.6"/>
<polygon points="303.4,333.3 318.6,333.3 311,348.8" fill="#000"/>
<line x1="598.00" y1="89.00" x2="545.21" y2="132.63" stroke="#ff0000" stroke-width="2.2" />
<polygon points="537.5,139.0 543.1,128.5 548.8,135.5" fill="#ff0000"/>
<line x1="596.70" y1="170.60" x2="536.76" y2="219.39" stroke="#ff6600" stroke-width="2.3" />
<polygon points="529.0,225.7 534.7,215.3 540.4,222.2" fill="#ff6600"/>
<line x1="595.70" y1="233.40" x2="543.41" y2="273.88" stroke="#0a6e0a" stroke-width="2.8" />
<polygon points="535.5,280.0 541.3,269.5 547.1,277.1" fill="#0a6e0a"/>
<line x1="498.00" y1="392.00" x2="525.67" y2="325.24" stroke="#1a1aff" stroke-width="2.2" />
<polygon points="529.5,316.0 529.4,327.9 521.1,324.4" fill="#1a1aff"/>
<polygon points="81.4,647.3 89.3,649.3 97.4,651.3 105.4,653.3 113.5,655.4 121.5,657.4 129.6,659.5 137.6,661.5 145.7,663.6 153.7,665.7 161.7,667.9 169.8,670.0 177.8,672.2 185.9,674.3 193.9,676.5 202.0,678.7 210.0,681.0 218.0,683.2 226.1,685.5 234.1,687.8 242.2,690.1 250.2,692.4 258.3,694.8 266.3,697.1 274.4,699.5 282.4,702.0 290.4,704.4 298.5,706.9 306.5,709.4 314.6,711.9 322.6,714.5 330.7,717.1 338.7,719.7 346.8,722.3 354.8,725.0 362.8,727.7 370.9,730.5 378.9,733.3 387.0,736.1 395.0,739.0 403.1,741.9 411.1,744.8 419.2,747.8 427.2,750.9 435.2,754.0 443.3,757.1 451.3,760.3 459.4,763.6 467.4,766.9 475.5,770.3 483.5,773.7 491.5,777.3 499.6,780.9 507.6,784.6 515.7,788.3 523.7,792.2 531.8,796.2 539.8,800.3 547.9,804.5 555.9,808.9 556.6,873.7009999999999 81.4,873.7009999999999" fill="#ffff99"/>
<line x1="81.40" y1="902.30" x2="556.60" y2="902.30" stroke="#222" stroke-width="1.2" />
<rect x="81.4" y="616.0" width="475.20000000000005" height="305.29999999999995" fill="none" stroke="#000" stroke-width="2.2"/>
<line x1="81.30" y1="616.00" x2="81.30" y2="629.00" stroke="#000" stroke-width="1.8" />
<line x1="81.30" y1="921.30" x2="81.30" y2="908.30" stroke="#000" stroke-width="1.8" />
<line x1="140.62" y1="616.00" x2="140.62" y2="622.50" stroke="#000" stroke-width="1.8" />
<line x1="140.62" y1="921.30" x2="140.62" y2="914.80" stroke="#000" stroke-width="1.8" />
<line x1="199.95" y1="616.00" x2="199.95" y2="629.00" stroke="#000" stroke-width="1.8" />
<line x1="199.95" y1="921.30" x2="199.95" y2="908.30" stroke="#000" stroke-width="1.8" />
<line x1="259.27" y1="616.00" x2="259.27" y2="622.50" stroke="#000" stroke-width="1.8" />
<line x1="259.27" y1="921.30" x2="259.27" y2="914.80" stroke="#000" stroke-width="1.8" />
<line x1="318.60" y1="616.00" x2="318.60" y2="629.00" stroke="#000" stroke-width="1.8" />
<line x1="318.60" y1="921.30" x2="318.60" y2="908.30" stroke="#000" stroke-width="1.8" />
<line x1="377.92" y1="616.00" x2="377.92" y2="622.50" stroke="#000" stroke-width="1.8" />
<line x1="377.92" y1="921.30" x2="377.92" y2="914.80" stroke="#000" stroke-width="1.8" />
<line x1="437.25" y1="616.00" x2="437.25" y2="629.00" stroke="#000" stroke-width="1.8" />
<line x1="437.25" y1="921.30" x2="437.25" y2="908.30" stroke="#000" stroke-width="1.8" />
<line x1="496.57" y1="616.00" x2="496.57" y2="622.50" stroke="#000" stroke-width="1.8" />
<line x1="496.57" y1="921.30" x2="496.57" y2="914.80" stroke="#000" stroke-width="1.8" />
<line x1="555.90" y1="616.00" x2="555.90" y2="629.00" stroke="#000" stroke-width="1.8" />
<line x1="555.90" y1="921.30" x2="555.90" y2="908.30" stroke="#000" stroke-width="1.8" />
<line x1="81.40" y1="902.30" x2="94.40" y2="902.30" stroke="#000" stroke-width="1.8" />
<line x1="556.60" y1="902.30" x2="543.60" y2="902.30" stroke="#000" stroke-width="1.8" />
<line x1="81.40" y1="878.47" x2="87.90" y2="878.47" stroke="#000" stroke-width="1.8" />
<line x1="556.60" y1="878.47" x2="550.10" y2="878.47" stroke="#000" stroke-width="1.8" />
<line x1="81.40" y1="854.63" x2="94.40" y2="854.63" stroke="#000" stroke-width="1.8" />
<line x1="556.60" y1="854.63" x2="543.60" y2="854.63" stroke="#000" stroke-width="1.8" />
<line x1="81.40" y1="830.80" x2="87.90" y2="830.80" stroke="#000" stroke-width="1.8" />
<line x1="556.60" y1="830.80" x2="550.10" y2="830.80" stroke="#000" stroke-width="1.8" />
<line x1="81.40" y1="806.97" x2="94.40" y2="806.97" stroke="#000" stroke-width="1.8" />
<line x1="556.60" y1="806.97" x2="543.60" y2="806.97" stroke="#000" stroke-width="1.8" />
<line x1="81.40" y1="783.14" x2="87.90" y2="783.14" stroke="#000" stroke-width="1.8" />
<line x1="556.60" y1="783.14" x2="550.10" y2="783.14" stroke="#000" stroke-width="1.8" />
<line x1="81.40" y1="759.30" x2="94.40" y2="759.30" stroke="#000" stroke-width="1.8" />
<line x1="556.60" y1="759.30" x2="543.60" y2="759.30" stroke="#000" stroke-width="1.8" />
<line x1="81.40" y1="735.47" x2="87.90" y2="735.47" stroke="#000" stroke-width="1.8" />
<line x1="556.60" y1="735.47" x2="550.10" y2="735.47" stroke="#000" stroke-width="1.8" />
<line x1="81.40" y1="711.64" x2="94.40" y2="711.64" stroke="#000" stroke-width="1.8" />
<line x1="556.60" y1="711.64" x2="543.60" y2="711.64" stroke="#000" stroke-width="1.8" />
<line x1="81.40" y1="687.81" x2="87.90" y2="687.81" stroke="#000" stroke-width="1.8" />
<line x1="556.60" y1="687.81" x2="550.10" y2="687.81" stroke="#000" stroke-width="1.8" />
<line x1="81.40" y1="663.97" x2="94.40" y2="663.97" stroke="#000" stroke-width="1.8" />
<line x1="556.60" y1="663.97" x2="543.60" y2="663.97" stroke="#000" stroke-width="1.8" />
<line x1="81.40" y1="640.14" x2="87.90" y2="640.14" stroke="#000" stroke-width="1.8" />
<line x1="556.60" y1="640.14" x2="550.10" y2="640.14" stroke="#000" stroke-width="1.8" />
<line x1="81.40" y1="616.31" x2="94.40" y2="616.31" stroke="#000" stroke-width="1.8" />
<line x1="556.60" y1="616.31" x2="543.60" y2="616.31" stroke="#000" stroke-width="1.8" />
<polyline points="81.4,647.3 89.3,649.3 97.4,651.3 105.4,653.3 113.5,655.4 121.5,657.4 129.6,659.5 137.6,661.5 145.7,663.6 153.7,665.7 161.7,667.9 169.8,670.0 177.8,672.2 185.9,674.3 193.9,676.5 202.0,678.7 210.0,681.0 218.0,683.2 226.1,685.5 234.1,687.8 242.2,690.1 250.2,692.4 258.3,694.8 266.3,697.1 274.4,699.5 282.4,702.0 290.4,704.4 298.5,706.9 306.5,709.4 314.6,711.9 322.6,714.5 330.7,717.1 338.7,719.7 346.8,722.3 354.8,725.0 362.8,727.7 370.9,730.5 378.9,733.3 387.0,736.1 395.0,739.0 403.1,741.9 411.1,744.8 419.2,747.8 427.2,750.9 435.2,754.0 443.3,757.1 451.3,760.3 459.4,763.6 467.4,766.9 475.5,770.3 483.5,773.7 491.5,777.3 499.6,780.9 507.6,784.6 515.7,788.3 523.7,792.2 531.8,796.2 539.8,800.3 547.9,804.5 555.9,808.9" fill="none" stroke="#000" stroke-width="3.2"/>
<line x1="81.40" y1="873.70" x2="556.60" y2="873.70" stroke="#000" stroke-width="2.8" stroke-dasharray="8.5 3"/>
<line x1="556.60" y1="873.70" x2="732.00" y2="873.70" stroke="#111" stroke-width="1.5" stroke-dasharray="4.5 2.8"/>
<line x1="556.60" y1="808.88" x2="732.00" y2="808.88" stroke="#111" stroke-width="1.5" stroke-dasharray="4.5 2.8"/>
<line x1="140.60" y1="677.80" x2="140.60" y2="857.00" stroke="#1a1aff" stroke-width="2.2" />
<polygon points="140.6,667.3 134.4,678.8 146.79999999999998,678.8" fill="#1a1aff"/>
<polygon points="140.6,867.5 134.4,856.0 146.79999999999998,856.0" fill="#1a1aff"/>
<line x1="258.60" y1="708.70" x2="258.60" y2="857.50" stroke="#0a6a0a" stroke-width="2.4" />
<polygon points="258.6,698.2 252.40000000000003,709.7 264.8,709.7" fill="#0a6a0a"/>
<polygon points="258.6,868 252.40000000000003,856.5 264.8,856.5" fill="#0a6a0a"/>
<line x1="377.40" y1="746.50" x2="377.40" y2="860.00" stroke="#ff9933" stroke-width="1.6" />
<polygon points="377.4,736 371.2,747.5 383.59999999999997,747.5" fill="#ff9933"/>
<polygon points="377.4,870.5 371.2,859.0 383.59999999999997,859.0" fill="#ff9933"/>
<line x1="497.30" y1="794.50" x2="497.30" y2="860.00" stroke="#ff0000" stroke-width="2.6" />
<polygon points="497.3,784 491.1,795.5 503.5,795.5" fill="#ff0000"/>
<polygon points="497.3,870.5 491.1,859.0 503.5,859.0" fill="#ff0000"/>
<rect x="105" y="804.2" width="422" height="41.2" fill="#fff" stroke="#111" stroke-width="1.8"/>
<text x="316.00" y="833.30" font-size="26" text-anchor="middle" fill="#0a0a0a" font-family='"Liberation Sans", Arial, sans-serif' font-weight="normal" font-style="normal"  stroke="#0a0a0a" stroke-width="0.15">Detection region in DLTS</text>
<rect x="122.4" y="878.8" width="232.3" height="40" fill="#fff" stroke="#111" stroke-width="1.7"/>
<rect x="340" y="643" width="115.5" height="40" fill="#fff" stroke="#111" stroke-width="1.8"/>
<line x1="372.00" y1="683.80" x2="340.26" y2="711.68" stroke="#111" stroke-width="1.5" />
<polygon points="335.0,716.3 338.9,708.6 343.1,713.4" fill="#111"/>
<line x1="354.70" y1="896.50" x2="382.86" y2="878.91" stroke="#111" stroke-width="1.5" />
<polygon points="388.8,875.2 383.7,882.2 380.3,876.7" fill="#111"/>
<text x="363.00" y="673.00" font-size="27" text-anchor="start" fill="#0a0a0a" font-family='"Liberation Serif", "DejaVu Serif", serif' font-weight="normal" font-style="italic"  stroke="#0a0a0a" stroke-width="0.25">w</text>
<text x="380.50" y="665.50" font-size="27" text-anchor="start" fill="#0a0a0a" font-family='"Liberation Serif", "DejaVu Serif", serif' font-weight="normal" font-style="normal"  stroke="#0a0a0a" stroke-width="0.25">∞</text>
<text x="383.50" y="678.80" font-size="15.5" text-anchor="start" fill="#0a0a0a" font-family='"Liberation Serif", "DejaVu Serif", serif' font-weight="normal" font-style="normal"  stroke="#0a0a0a" stroke-width="0.25">R</text>
<text x="400.00" y="673.00" font-size="24" text-anchor="start" fill="#0a0a0a" font-family='"Liberation Sans", Arial, sans-serif' font-weight="normal" font-style="normal"  stroke="#0a0a0a" stroke-width="0.5">–</text>
<text transform="translate(424.5,673) skewX(-12)" font-size="27" fill="#0a0a0a" font-family='"Liberation Serif", "DejaVu Serif", serif' font-style="italic">λ</text>
<text x="135.50" y="908.30" font-size="26" text-anchor="start" fill="#0a0a0a" font-family='"Liberation Serif", "DejaVu Serif", serif' font-weight="normal" font-style="italic"  stroke="#0a0a0a" stroke-width="0.25">w</text>
<text x="158.00" y="912.80" font-size="15" text-anchor="start" fill="#0a0a0a" font-family='"Liberation Serif", "DejaVu Serif", serif' font-weight="normal" font-style="normal"  stroke="#0a0a0a" stroke-width="0.25">P</text>
<text x="173.00" y="908.30" font-size="22" text-anchor="start" fill="#0a0a0a" font-family='"Liberation Sans", Arial, sans-serif' font-weight="normal" font-style="normal"  stroke="#0a0a0a" stroke-width="0.5">–</text>
<text transform="translate(196,908.3) skewX(-12)" font-size="26" fill="#0a0a0a" font-family='"Liberation Serif", "DejaVu Serif", serif' font-style="italic">λ</text>
<text x="219.50" y="908.30" font-size="22" text-anchor="start" fill="#0a0a0a" font-family='"Liberation Sans", Arial, sans-serif' font-weight="normal" font-style="normal"  stroke="#0a0a0a" stroke-width="0.15">(</text>
<text transform="translate(227.60,908.50) scale(0.88,1)" font-size="24.5" fill="#0a0a0a" stroke="#0a0a0a" stroke-width="0.3" font-style="italic" font-family='"Liberation Serif", "DejaVu Serif", serif'>V</text>
<text x="246.50" y="912.80" font-size="15" text-anchor="start" fill="#0a0a0a" font-family='"Liberation Serif", "DejaVu Serif", serif' font-weight="normal" font-style="normal"  stroke="#0a0a0a" stroke-width="0.25">P</text>
<text x="261.70" y="908.30" font-size="22.8" text-anchor="start" fill="#0a0a0a" font-family='"Liberation Sans", Arial, sans-serif' font-weight="normal" font-style="normal"  stroke="#0a0a0a" stroke-width="0.15">=</text>
<text x="281.20" y="908.30" font-size="22.8" text-anchor="start" fill="#0a0a0a" font-family='"Liberation Sans", Arial, sans-serif' font-weight="normal" font-style="normal"  stroke="#0a0a0a" stroke-width="0.15">0.8</text>
<text x="321.30" y="908.30" font-size="22.8" text-anchor="start" fill="#0a0a0a" font-family='"Liberation Sans", Arial, sans-serif' font-weight="normal" font-style="normal"  stroke="#0a0a0a" stroke-width="0.15">V)</text>
<text transform="translate(99.00,601.30) scale(0.92,1)" font-size="24.5" fill="#0a0a0a" stroke="#0a0a0a" stroke-width="0.1" font-style="italic" font-family='"Liberation Serif", "DejaVu Serif", serif'>E</text>
<text x="118.00" y="607.50" font-size="19" text-anchor="start" fill="#0a0a0a" font-family='"Liberation Serif", "DejaVu Serif", serif' font-weight="normal" font-style="normal"  stroke="#0a0a0a" stroke-width="0.25">c</text>
<text x="132.00" y="601.60" font-size="25" text-anchor="start" fill="#0a0a0a" font-family='"Liberation Sans", Arial, sans-serif' font-weight="normal" font-style="normal"  stroke="#0a0a0a" stroke-width="0.7">–</text>
<text transform="translate(151.50,601.30) scale(0.92,1)" font-size="24.5" fill="#0a0a0a" stroke="#0a0a0a" stroke-width="0.1" font-style="italic" font-family='"Liberation Serif", "DejaVu Serif", serif'>E</text>
<text x="170.50" y="607.50" font-size="19" text-anchor="start" fill="#0a0a0a" font-family='"Liberation Serif", "DejaVu Serif", serif' font-weight="normal" font-style="normal"  stroke="#0a0a0a" stroke-width="0.25">t</text>
<text x="184.00" y="601.20" font-size="23.3" text-anchor="start" fill="#0a0a0a" font-family='"Liberation Sans", Arial, sans-serif' font-weight="normal" font-style="normal"  stroke="#0a0a0a" stroke-width="0.5">=</text>
<text x="204.10" y="601.20" font-size="23.3" text-anchor="start" fill="#0a0a0a" font-family='"Liberation Sans", Arial, sans-serif' font-weight="normal" font-style="normal"  stroke="#0a0a0a" stroke-width="0.2">0.35 eV</text>
<text x="73.80" y="909.00" font-size="30" text-anchor="end" fill="#0a0a0a" font-family='"Liberation Sans", Arial, sans-serif' font-weight="normal" font-style="normal"  stroke="#0a0a0a" stroke-width="0.5">0</text>
<text x="73.80" y="861.34" font-size="30" text-anchor="end" fill="#0a0a0a" font-family='"Liberation Sans", Arial, sans-serif' font-weight="normal" font-style="normal"  stroke="#0a0a0a" stroke-width="0.5">5</text>
<text x="73.80" y="813.67" font-size="30" text-anchor="end" fill="#0a0a0a" font-family='"Liberation Sans", Arial, sans-serif' font-weight="normal" font-style="normal"  stroke="#0a0a0a" stroke-width="0.5">10</text>
<text x="73.80" y="766.00" font-size="30" text-anchor="end" fill="#0a0a0a" font-family='"Liberation Sans", Arial, sans-serif' font-weight="normal" font-style="normal"  stroke="#0a0a0a" stroke-width="0.5">15</text>
<text x="73.80" y="718.34" font-size="30" text-anchor="end" fill="#0a0a0a" font-family='"Liberation Sans", Arial, sans-serif' font-weight="normal" font-style="normal"  stroke="#0a0a0a" stroke-width="0.5">20</text>
<text x="73.80" y="670.67" font-size="30" text-anchor="end" fill="#0a0a0a" font-family='"Liberation Sans", Arial, sans-serif' font-weight="normal" font-style="normal"  stroke="#0a0a0a" stroke-width="0.5">25</text>
<text x="73.80" y="623.01" font-size="30" text-anchor="end" fill="#0a0a0a" font-family='"Liberation Sans", Arial, sans-serif' font-weight="normal" font-style="normal"  stroke="#0a0a0a" stroke-width="0.5">30</text>
<text x="80.30" y="948.00" font-size="26.5" text-anchor="middle" fill="#0a0a0a" font-family='"Liberation Sans", Arial, sans-serif' font-weight="normal" font-style="normal"  stroke="#0a0a0a" stroke-width="0.5">-4.0</text>
<text x="198.95" y="948.00" font-size="26.5" text-anchor="middle" fill="#0a0a0a" font-family='"Liberation Sans", Arial, sans-serif' font-weight="normal" font-style="normal"  stroke="#0a0a0a" stroke-width="0.5">-3.0</text>
<text x="317.60" y="948.00" font-size="26.5" text-anchor="middle" fill="#0a0a0a" font-family='"Liberation Sans", Arial, sans-serif' font-weight="normal" font-style="normal"  stroke="#0a0a0a" stroke-width="0.5">-2.0</text>
<text x="436.25" y="948.00" font-size="26.5" text-anchor="middle" fill="#0a0a0a" font-family='"Liberation Sans", Arial, sans-serif' font-weight="normal" font-style="normal"  stroke="#0a0a0a" stroke-width="0.5">-1.0</text>
<text x="556.40" y="948.00" font-size="26" text-anchor="middle" fill="#0a0a0a" font-family='"Liberation Sans", Arial, sans-serif' font-weight="normal" font-style="normal"  stroke="#0a0a0a" stroke-width="0.5">0</text>
<text x="141.60" y="991.30" font-size="28.3" text-anchor="start" fill="#0a0a0a" font-family='"Liberation Sans", Arial, sans-serif' font-weight="normal" font-style="normal"  stroke="#0a0a0a" stroke-width="0.15">Reverse Bias Voltage</text>
<text transform="translate(423.40,991.60) scale(0.86,1)" font-size="31" fill="#0a0a0a" stroke="#0a0a0a" stroke-width="0.3" font-style="italic" font-family='"Liberation Serif", "DejaVu Serif", serif'>V</text>
<text x="443.80" y="998.70" font-size="20" text-anchor="start" fill="#0a0a0a" font-family='"Liberation Serif", "DejaVu Serif", serif' font-weight="normal" font-style="normal"  stroke="#0a0a0a" stroke-width="0.25">R</text>
<text x="460.00" y="991.30" font-size="27" text-anchor="start" fill="#0a0a0a" font-family='"Liberation Sans", Arial, sans-serif' font-weight="normal" font-style="normal"  stroke="#0a0a0a" stroke-width="0.15">(V)</text>
<text x="364.00" y="1038.00" font-size="34" text-anchor="middle" fill="#0a0a0a" font-family='"Liberation Sans", Arial, sans-serif' font-weight="normal" font-style="normal"  stroke="#0a0a0a" stroke-width="0.5">(b)</text>
<g transform="translate(23,855.3) rotate(-90)"><text x="0" y="0" font-size="30.5" fill="#0a0a0a" font-family='"Liberation Sans", Arial, sans-serif'>Depth (nm)</text></g>
<rect x="621.7" y="609.4" width="110.2" height="293" fill="#fde0c4"/>
<rect x="621.7" y="902.5" width="110.2" height="29.2" fill="#a6a6a6" stroke="#111" stroke-width="2.2"/>
<line x1="621.70" y1="609.40" x2="621.70" y2="932.70" stroke="#111" stroke-width="2.2" />
<line x1="731.90" y1="609.40" x2="731.90" y2="932.70" stroke="#111" stroke-width="2.2" />
<line x1="556.60" y1="873.70" x2="732.00" y2="873.70" stroke="#111" stroke-width="1.5" stroke-dasharray="4.5 2.8"/>
<line x1="556.60" y1="808.88" x2="732.00" y2="808.88" stroke="#111" stroke-width="1.5" stroke-dasharray="4.5 2.8"/>
<text x="676.50" y="730.00" font-size="25" text-anchor="middle" fill="#0a0a0a" font-family='"Liberation Sans", Arial, sans-serif' font-weight="normal" font-style="normal"  stroke="#0a0a0a" stroke-width="0.15">n-type</text>
<text x="676.00" y="760.20" font-size="25" text-anchor="middle" fill="#0a0a0a" font-family='"Liberation Sans", Arial, sans-serif' font-weight="normal" font-style="normal"  stroke="#0a0a0a" stroke-width="0.15">SiC</text>
<text x="680.50" y="960.00" font-size="25.3" text-anchor="middle" fill="#0a0a0a" font-family='"Liberation Sans", Arial, sans-serif' font-weight="normal" font-style="normal"  stroke="#0a0a0a" stroke-width="0.15">Ni Schottky</text>
<text x="681.00" y="988.00" font-size="25.3" text-anchor="middle" fill="#0a0a0a" font-family='"Liberation Sans", Arial, sans-serif' font-weight="normal" font-style="normal"  stroke="#0a0a0a" stroke-width="0.15">contact</text>
</svg>
</body></html>
